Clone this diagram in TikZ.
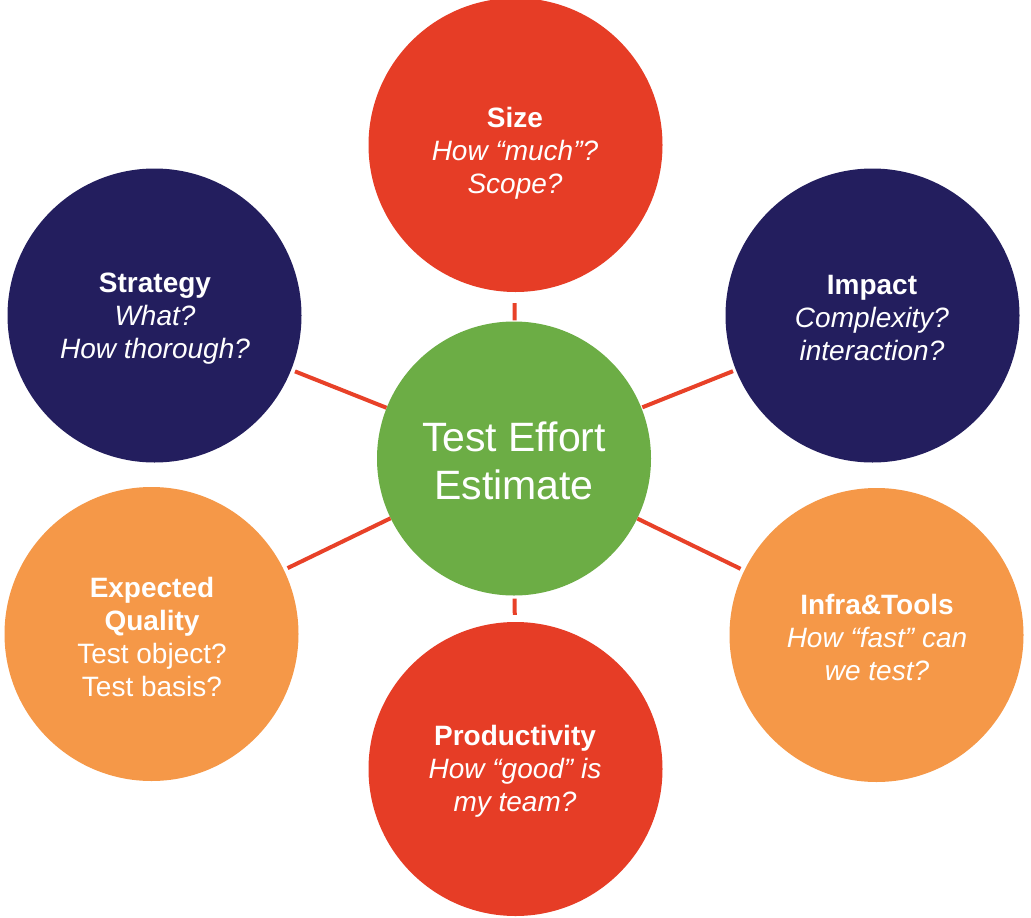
\documentclass[tikz,border=0pt]{standalone}
\usepackage{fontspec}
\setmainfont{Liberation Sans}
\definecolor{cred}{RGB}{230,61,38}
\definecolor{cnavy}{RGB}{35,30,94}
\definecolor{corange}{RGB}{245,152,72}
\definecolor{cgreen}{RGB}{108,173,69}
\definecolor{linkred}{RGB}{232,65,40}
\begin{document}
\begin{tikzpicture}[x=1pt,y=-1pt,
  bub/.style={circle, minimum size=294pt, inner sep=0pt, draw=none},
  lbl/.style={text=white, align=center, inner sep=0pt, font=\fontsize{28}{33}\selectfont},
  link/.style={draw=linkred, line width=4pt}]
\useasboundingbox[fill=white] (0,0) rectangle (1031,918);
% outer circles
\node[bub, fill=cred] (size) at (515.5,145) {};
\node[bub, fill=cnavy] (strategy) at (154.5,315.5) {};
\node[bub, fill=cnavy] (impact) at (872.5,315.5) {};
\node[bub, fill=corange] (quality) at (151.5,634) {};
\node[bub, fill=corange] (infra) at (876.5,635) {};
\node[bub, fill=cred] (prod) at (515.5,769) {};
% centre
\node[circle, minimum size=274pt, inner sep=0pt, fill=cgreen] (core) at (514,458.5) {};
% connectors
\draw[link, shorten <=1pt, shorten >=11pt] (core) -- (size);
\draw[link, shorten <=0pt, shorten >=4pt] (core) -- (strategy);
\draw[link, shorten <=1pt, shorten >=3pt] (core) -- (impact);
\draw[link, shorten <=0pt, shorten >=4pt] (core) -- (quality);
\draw[link, shorten <=0pt, shorten >=4pt] (core) -- (infra);
\draw[link, shorten <=3pt, shorten >=7pt] (core) -- (prod);
% labels
\node[lbl] (sizet) at (515,153) {\textbf{Size}\\\textit{How “much”?}\\\textit{Scope?}};
\node[lbl] (strategyt) at (155,319) {\textbf{Strategy}\\\textit{What?}\\\textit{How thorough?}};
\node[lbl] (impactt) at (872,318) {\textbf{Impact}\\\textit{Complexity?}\\\textit{interaction?}};
\node[lbl] (qualityt) at (152,637) {\textbf{Expected}\\\textbf{Quality}\\Test object?\\Test basis?};
\node[lbl] (infrat) at (877,637) {\textbf{Infra\&Tools}\\\textit{How “fast” can}\\\textit{we test?}};
\node[lbl] (prodt) at (515,771) {\textbf{Productivity}\\\textit{How “good” is}\\\textit{my team?}};
\node[text=white, align=center, inner sep=0pt, font=\fontsize{41}{48}\selectfont] (coret) at (514,461) {Test Effort\\Estimate};
\end{tikzpicture}
\end{document}
